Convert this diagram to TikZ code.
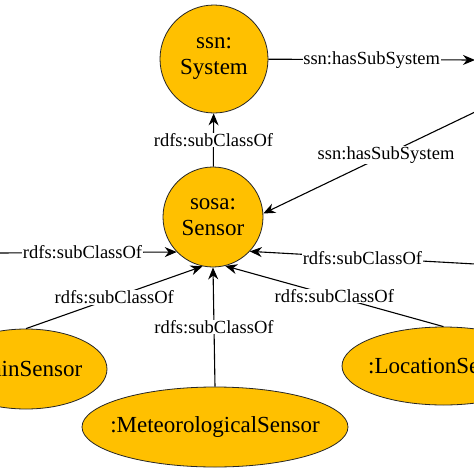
\documentclass[tikz,border=0pt]{standalone}
\usepackage{fontspec}
\setmainfont{Liberation Serif}
\usetikzlibrary{shapes.geometric,arrows.meta}
\definecolor{classfill}{RGB}{255,192,0}
\tikzset{
  cls/.style={circle,draw=black!85,fill=classfill,line width=0.8pt,align=center,inner sep=0pt,font=\fontsize{23}{26}\selectfont},
  sub/.style={ellipse,draw=black!85,fill=classfill,line width=0.8pt,inner sep=0pt,font=\fontsize{23}{26}\selectfont},
  rel/.style={-{Stealth[length=12pt,width=10pt]},line width=1.1pt},
  lbl/.style={fill=white,inner sep=0.5pt,font=\fontsize{18.5}{20}\selectfont}
}
\begin{document}
\begin{tikzpicture}[x=1pt,y=-1pt]
\clip (0,0) rectangle (474,474);
\fill[white] (0,0) rectangle (474,474);

% classes
\node[cls,minimum size=108pt] (system) at (214,59) {ssn:\\System};
\node[cls,minimum size=100pt] (sensor) at (213,217) {sosa:\\Sensor};
\node[sub,minimum width=162pt,minimum height=80pt] (rain) at (26,369) {\makebox[0pt]{:RainSensor}};
\node[sub,minimum width=266pt,minimum height=80pt] (meteo) at (215,427) {\makebox[0pt]{:MeteorologicalSensor}};
\node[sub,minimum width=203pt,minimum height=78pt] (location) at (443.5,366) {\makebox[0pt]{:LocationSensor}};

% ends outside the picture
\coordinate (subsysin) at (475,60);
\coordinate (subsysout) at (475,112);
\coordinate (leftcls) at (-1,253);
\coordinate (rightcls) at (475,264);

\draw[rel] (sensor) -- node[lbl] {rdfs:subClassOf} (system);
\draw[rel] (system) -- node[lbl] {ssn:hasSubSystem} (subsysin);
\draw[rel] (subsysout) -- node[lbl,pos=0.42] {ssn:hasSubSystem} (sensor.4);
\draw[rel] (leftcls) -- node[lbl,pos=0.47] {rdfs:subClassOf} (sensor.224);
\draw[rel] (rightcls) -- node[lbl] {rdfs:subClassOf} (sensor.317);
\draw[rel] (rain.north) -- node[lbl] {rdfs:subClassOf} (sensor.258);
\draw[rel] (meteo.north) -- node[lbl] {rdfs:subClassOf} (sensor.south);
\draw[rel] (location.north) -- node[lbl] {rdfs:subClassOf} (sensor.284);

\end{tikzpicture}
\end{document}
